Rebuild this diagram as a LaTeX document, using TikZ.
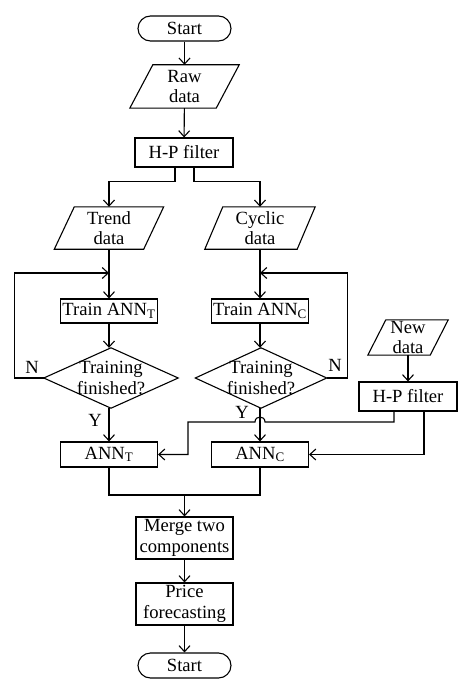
\documentclass[tikz,border=0pt]{standalone}
\usepackage{fontspec}
\setmainfont{Liberation Serif}
\usetikzlibrary{arrows.meta}
\tikzset{
  every node/.style={font=\fontsize{18.6}{20.5}\selectfont, align=center, inner sep=1pt},
  box/.style={draw, line width=1.1pt, minimum width=97pt, minimum height=#1},
  box/.default=25pt,
  term/.style={draw, line width=1.1pt, rounded corners=12.5pt, minimum width=93pt, minimum height=25pt},
  io/.style={minimum width=#1, minimum height=42pt},
  lbl/.style={font=\fontsize{18.6}{20.5}\selectfont},
  ln/.style={line width=1.1pt},
  arr/.style={line width=1.1pt, -{Straight Barb[length=6pt,width=11pt]}},
}
\newcommand{\pgramdraw}[2]{%
  \draw[ln] ([xshift=#2/2]#1.north west) -- ([xshift=#2/2]#1.north east) -- ([xshift=-#2/2]#1.south east) -- ([xshift=-#2/2]#1.south west) -- cycle;}
\newcommand{\diamdraw}[1]{%
  \draw[ln] (#1.north) -- (#1.east) -- (#1.south) -- (#1.west) -- cycle;}
\begin{document}
\begin{tikzpicture}[x=1pt,y=-1pt]
\useasboundingbox (0,0) rectangle (474,695);
% nodes
\node[term] (start) at (184.5,28.5) {Start};
\node[io=86pt, minimum height=43pt] (raw) at (184.5,86.5) {Raw\\data};
\node[box=29pt, minimum width=98pt] (hp1) at (184,152.5) {H-P filter};
\node[io=89pt] (trend) at (109,228) {Trend\\data};
\node[io=92pt] (cyclic) at (260,228) {Cyclic\\data};
\node[box=24pt] (trainT) at (109,311) {Train ANN\textsubscript{T}};
\node[box=24pt] (trainC) at (260,311) {Train ANN\textsubscript{C}};
\node[minimum width=134pt, minimum height=60pt] (d1) at (111,378) {Training\\finished?};
\node[minimum width=131pt, minimum height=60pt] (d2) at (261,378) {Training\\finished?};
\node[minimum width=62pt, minimum height=33pt] (newd) at (408,337.5) {New\\data};
\node[box=29pt, minimum width=98pt] (hp2) at (408,396.5) {H-P filter};
\node[box] (annT) at (109,454.5) {ANN\textsubscript{T}};
\node[box] (annC) at (260,454.5) {ANN\textsubscript{C}};
\node[box=42pt] (merge) at (184.5,538) {Merge two\\components};
\node[box=42pt] (price) at (184.5,604) {Price\\forecasting};
\node[term] (stop) at (184.5,665.5) {Start};
% shapes drawn around nodes
\pgramdraw{raw}{23pt}
\pgramdraw{trend}{20pt}
\pgramdraw{cyclic}{18pt}
\pgramdraw{newd}{18pt}
\diamdraw{d1}
\diamdraw{d2}
% labels
\node[lbl] (nL) at (32,367) {N};
\node[lbl] (nR) at (335,365) {N};
\node[lbl] (yL) at (95,420) {Y};
\node[lbl] (yR) at (242,412) {Y};
% coordinates
\coordinate (jT) at (109,273);
\coordinate (jC) at (260,273);
\coordinate (mj) at (184.5,495);
% connectors
\draw[arr] (start) -- (raw);
\draw[arr] (raw) -- (hp1);
\draw[arr] ([xshift=-9pt]hp1.south) -- ++(0,14) -| (trend.north);
\draw[arr] ([xshift=10pt]hp1.south) -- ++(0,14) -| (cyclic.north);
\draw[arr] (trend) -- (trainT);
\draw[arr] (cyclic) -- (trainC);
\draw[arr] (trainT.south) -- (trainT.south |- d1.north);
\draw[arr] (trainC.south) -- (trainC.south |- d2.north);
\draw[arr] (d1.west) -- ++(-29,0) |- (jT);
\draw[arr] (d2.east) -- ++(21,0) |- (jC);
\draw[arr] (annT.north |- d1.south) -- (annT.north);
\draw[arr] (annC.north |- d2.south) -- (annC.north);
\draw[arr] (newd) -- (hp2);
\draw[arr] ([xshift=-14pt]hp2.south) |- (265,422) .. controls (265,415.3) and (255,415.3) .. (255,422) -- (188,422) |- (annT.east);
\draw[arr] ([xshift=16pt]hp2.south) |- (annC.east);
\draw[ln] (annT.south) |- (mj) -| (annC.south);
\draw[arr] (mj) -- (merge.north);
\draw[arr] (merge) -- (price);
\draw[arr] (price) -- (stop);
\end{tikzpicture}
\end{document}
